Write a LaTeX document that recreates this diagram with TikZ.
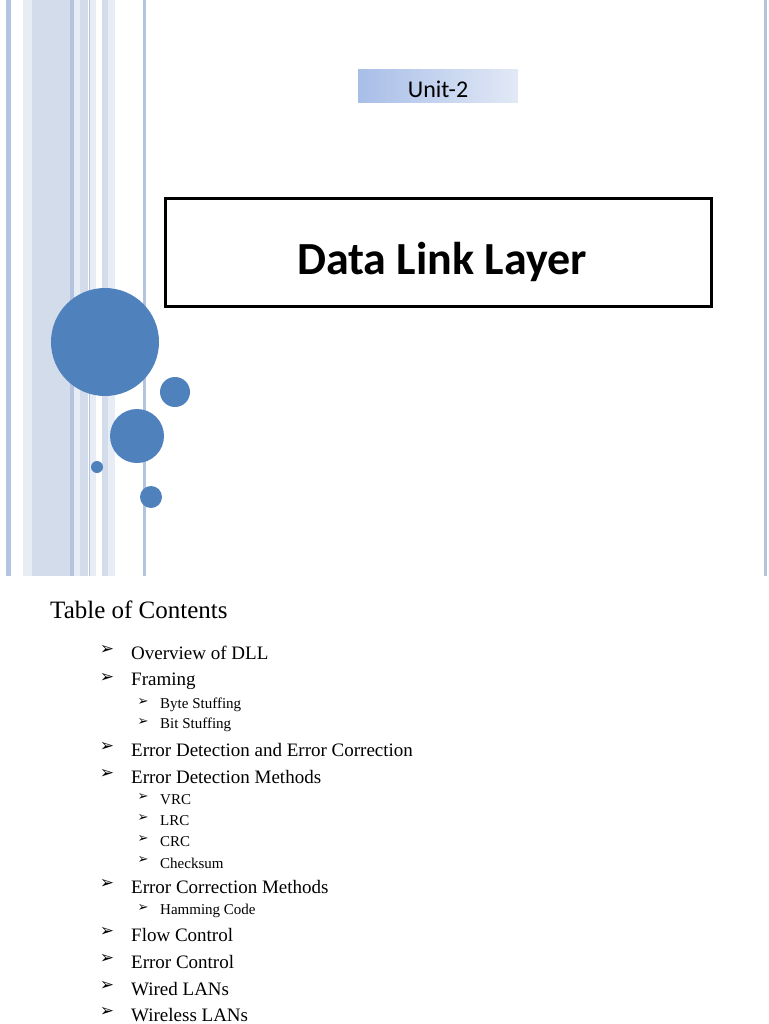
\documentclass[tikz,border=0pt]{standalone}
\usepackage{fontspec}
\setmainfont{Liberation Serif}
\newfontfamily\calib{Carlito}
\newfontfamily\djv{DejaVu Sans}
\begin{document}
\begin{tikzpicture}[x=1pt,y=-1pt,
  itm/.style={anchor=west,font=\fontsize{19}{22}\selectfont,inner sep=0},
  sub/.style={anchor=west,font=\fontsize{15}{17}\selectfont,inner sep=0},
  bul/.style={anchor=center,font=\djv\fontsize{17}{19}\selectfont,inner sep=0},
  sbul/.style={anchor=center,font=\djv\fontsize{13}{15}\selectfont,inner sep=0},
  dot/.style={fill=cb,draw=none}]
\definecolor{cb}{HTML}{4F81BD}
\definecolor{s1}{HTML}{B4C4DE}
\definecolor{s2}{HTML}{D2DCEA}
\definecolor{s3}{HTML}{E8ECF4}
\useasboundingbox (0,0) rectangle (768,1024);
\fill[white] (0,0) rectangle (768,1024);
% stripes
\fill[s1] (6,0) rectangle (11,576);
\fill[s3] (23,0) rectangle (32,576);
\fill[s2] (32,0) rectangle (70,576);
\fill[s1] (70,0) rectangle (74,576);
\fill[s3] (74,0) rectangle (80,576);
\fill[s2] (80,0) rectangle (88,576);
\fill[s1] (89,0) rectangle (90,576);
\fill[s3] (90,0) rectangle (96,576);
\fill[s2] (102,0) rectangle (108,576);
\fill[s3] (108,0) rectangle (115,576);
\fill[s1] (143,0) rectangle (146,576);
\fill[s1] (764,0) rectangle (767,576);
% circles
\fill[dot] (105,342) circle (54);
\fill[dot] (175,392) circle (15);
\fill[dot] (137,436) circle (27);
\fill[dot] (97,467) circle (6);
\fill[dot] (151,497) circle (11);
% unit box
\shade[left color={rgb,255:red,168;green,190;blue,232},right color={rgb,255:red,226;green,233;blue,246}] (358,70) rectangle (518,103);
\node[font=\calib\fontsize{24}{26}\selectfont] (unit) at (438,89) {Unit-2};
\draw[line width=3] (165,199) rectangle (711,306);
\node[font=\calib\bfseries\fontsize{46}{50}\selectfont] (title) at (442,262) {Data Link Layer};
\node[anchor=west,inner sep=0,font=\fontsize{25}{28}\selectfont] (toc) at (50,610) {Table of Contents};
\foreach \y/\t [count=\i] in {653/Overview of DLL,681/Framing,750/Error Detection and Error Correction,777/Error Detection Methods,887/Error Correction Methods,935/Flow Control,962/Error Control,989/Wired LANs,1015/Wireless LANs}{
  \node[bul] (b\i) at (107,\y-3) {➢};
  \node[itm] (t\i) at (131,\y) {\t};
}
\foreach \y/\t [count=\i] in {705/Byte Stuffing,725/Bit Stuffing,800/VRC,821/LRC,842/CRC,863/Checksum,911/Hamming Code}{
  \node[sbul] (sb\i) at (143,\y-3) {➢};
  \node[sub] (st\i) at (160,\y) {\t};
}
\end{tikzpicture}
\end{document}
